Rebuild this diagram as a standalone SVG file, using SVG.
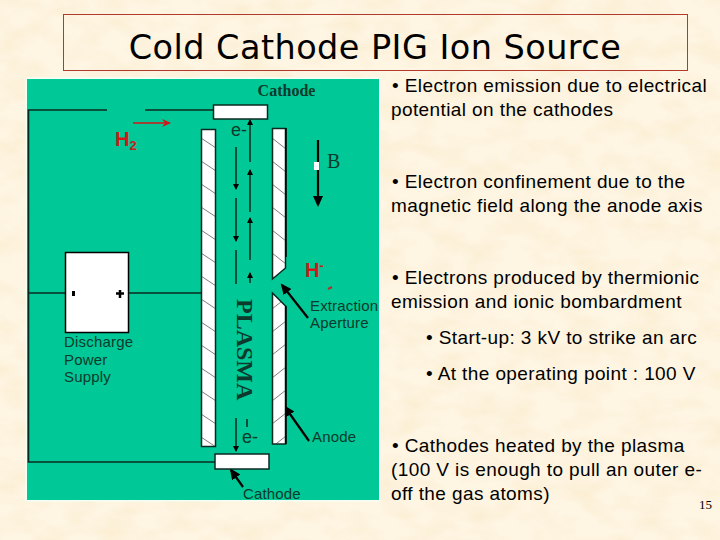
<svg xmlns="http://www.w3.org/2000/svg" width="720" height="540" viewBox="0 0 720 540">
<style>
.s{font-family:"Liberation Sans",Arial,sans-serif}
.b{font-size:19px;letter-spacing:.4px;fill:#000}
.l{font-size:15px;letter-spacing:.15px;fill:#0c3a2c}
.w{fill:none;stroke:#0a2a20;stroke-width:1.6}
.t{fill:#fff;stroke:#0a2a20;stroke-width:1.5}
.a{fill:none;stroke:#000;stroke-width:1.2}
.A{fill:none;stroke:#000;stroke-width:2.200}
</style>
<defs>
<filter id="paper" x="0" y="0" width="100%" height="100%"><feTurbulence type="fractalNoise" baseFrequency="0.03 0.05" numOctaves="4" seed="7"/><feColorMatrix type="matrix" values="0 0 0 0 .96  0 0 0 0 .84  0 0 0 0 .62  1.6 0 0 0 -.62"/></filter>
<marker id="sm" markerWidth="6" markerHeight="8" refX="5" refY="3" orient="auto" markerUnits="userSpaceOnUse"><path d="M0 0L6 3L0 6Z" fill="#000"/></marker>
<marker id="big" markerWidth="12" markerHeight="10" refX="9" refY="5" orient="auto" markerUnits="userSpaceOnUse"><path d="M0 0L11 5L0 10Z" fill="#000"/></marker>
<marker id="red" markerWidth="10" markerHeight="10" refX="8" refY="4" orient="auto" markerUnits="userSpaceOnUse"><path d="M0 0L9 4L0 8L3 4Z" fill="#d01818"/></marker>
<pattern id="hl" width="15" height="23" patternUnits="userSpaceOnUse" patternTransform="translate(201 138)"><path d="M0 0L15 10" stroke="#444" stroke-width=".7"/></pattern>
<pattern id="hr" width="14" height="23" patternUnits="userSpaceOnUse" patternTransform="translate(272 138)"><path d="M0 0L14 11" stroke="#444" stroke-width=".7"/></pattern>
<pattern id="hr2" width="14" height="23" patternUnits="userSpaceOnUse" patternTransform="translate(272 298)"><path d="M0 11L14 0" stroke="#444" stroke-width=".7"/></pattern>
</defs>
<rect id="bg" width="720" height="540" fill="#fef5e3"/>
<rect width="720" height="540" filter="url(#paper)"/>
<g id="title"><rect x="63.500" y="14.500" width="624" height="56" fill="none" stroke="#b03a2e" stroke-width="1"/>
<text x="375" y="59" text-anchor="middle" font-family="DejaVu Sans,sans-serif" font-size="33.500" letter-spacing=".45" fill="#000">Cold Cathode PIG Ion Source</text></g>
<rect x="25.500" y="77.500" width="355" height="424" fill="#f4fff4"/>
<rect id="panel" x="27" y="79" width="352" height="421" fill="#00c896"/>
<g id="connectors">
<path class="w" d="M107 110H28.500V462H201M145 110H214M28.500 293H65M129 293H201M190 462H215"/>
<path d="M133 123H170" stroke="#d01818" stroke-width="1.500" fill="none" marker-end="url(#red)"/>
<path class="a" d="M250 162V120" marker-end="url(#sm)"/>
<path class="a" d="M250 212V170" marker-end="url(#sm)"/>
<path class="a" d="M250 260V218" marker-end="url(#sm)"/>
<path class="a" d="M250 283V273" marker-end="url(#sm)"/>
<path class="a" d="M236 147V189" marker-end="url(#sm)"/>
<path class="a" d="M236 198V241" marker-end="url(#sm)"/>
<path class="a" d="M236 250V284"/>
<path class="a" d="M236 418V451" marker-end="url(#sm)"/>
<path class="a" d="M247 419V427"/>
<path class="A" d="M318 140V205" marker-end="url(#big)"/>
<path class="A" d="M308 318L282 285" marker-end="url(#big)"/>
<path class="A" d="M309 441L285 407" marker-end="url(#big)"/>
<path class="A" d="M243 487L231 470" marker-end="url(#big)"/>
</g>
<g id="cathode-top"><rect class="t" x="213.500" y="105" width="54" height="14"/><text x="286.500" y="96" text-anchor="middle" font-family="Liberation Serif,serif" font-weight="bold" font-size="16" fill="#0c3a2c">Cathode</text></g>
<g id="cathode-bottom"><rect class="t" x="215" y="454" width="54" height="15" stroke-width="2"/><text x="243" y="499" class="s l">Cathode</text></g>
<g id="anode-left"><rect class="t" x="201.500" y="129.500" width="14" height="317"/><rect x="202" y="130" width="13" height="316" fill="url(#hl)"/></g>
<g id="anode-right-top"><path class="t" d="M272.500 128.500H285.500V268L272.500 279Z"/><path d="M273 129H285V268L273 278Z" fill="url(#hr)"/><path d="M286 128V257" stroke="#000" stroke-width="1.500"/></g>
<g id="anode-right-bottom"><path class="t" d="M272.500 293L285.500 306V444H272.500Z"/><path d="M273 294L285 306V444H273Z" fill="url(#hr2)"/><path d="M286 306V444" stroke="#000" stroke-width="1.500"/></g>
<g id="supply"><rect x="65.500" y="252.500" width="63" height="80" fill="#fff" stroke="#000" stroke-width="1.500"/>
<rect x="72" y="291" width="3" height="5" fill="#000"/><path d="M116 293.500H124M120 290V298" stroke="#000" stroke-width="2.500"/>
<text class="s l" style="letter-spacing:.2px"><tspan x="64" y="347">Discharge</tspan><tspan x="64" y="365">Power</tspan><tspan x="64" y="382">Supply</tspan></text></g>
<g id="labels">
<text x="115" y="146" class="s" font-size="20" font-weight="bold" fill="#d01818">H<tspan font-size="13" dy="4">2</tspan></text>
<text x="231" y="136" class="s" font-size="18" fill="#0c3a2c">e-</text>
<text x="242" y="443" class="s" font-size="18" fill="#0c3a2c">e-</text>
<rect x="314" y="162" width="5" height="8" fill="#fff"/>
<text x="327" y="168" font-family="Liberation Serif,serif" font-size="20" fill="#0c3a2c">B</text>
<text x="305" y="277" class="s" font-size="20" font-weight="bold" fill="#d01818">H<tspan font-size="13" dy="-7">-</tspan></text>
<path d="M328 289L332 287" stroke="#b03030" stroke-width="2"/>
<text transform="translate(237 299) rotate(90)" font-family="Liberation Serif,serif" font-weight="bold" font-size="24" fill="#0c3a2c">PLASMA</text>
<text class="s l"><tspan x="310" y="311">Extraction</tspan><tspan x="310" y="328">Aperture</tspan></text>
<text x="312" y="442" class="s l">Anode</text>
</g>
<g id="bullets" class="s b">
<text><tspan x="392" y="92">• Electron emission due to electrical</tspan><tspan x="391" y="116">potential on the cathodes</tspan></text>
<text><tspan x="392" y="188">• Electron confinement due to the</tspan><tspan x="391" y="212">magnetic field along the anode axis</tspan></text>
<text><tspan x="392" y="284">• Electrons produced by thermionic</tspan><tspan x="391" y="308">emission and ionic bombardment</tspan></text>
<text x="426" y="344">• Start-up: 3 kV to strike an arc</text>
<text x="426" y="380">• At the operating point : 100 V</text>
<text><tspan x="392" y="452">• Cathodes heated by the plasma</tspan><tspan x="391" y="476">(100 V is enough to pull an outer e-</tspan><tspan x="391" y="500">off the gas atoms)</tspan></text>
</g>
<text id="page" x="699" y="509" font-family="Liberation Serif,serif" font-size="13" fill="#000">15</text>
</svg>
